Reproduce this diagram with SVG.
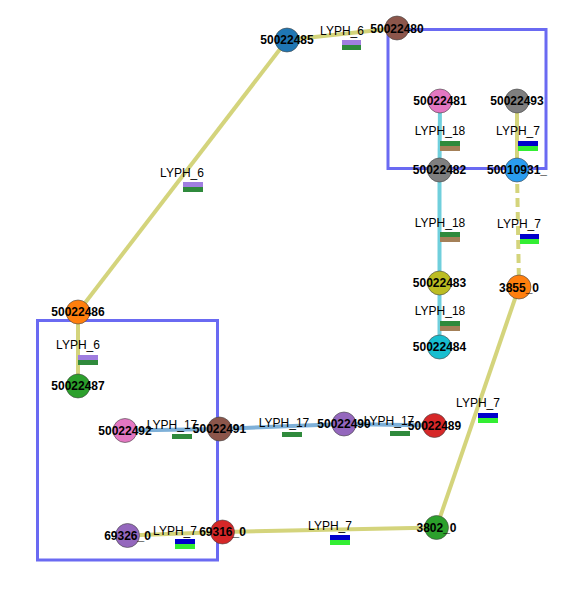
<svg xmlns="http://www.w3.org/2000/svg" width="561" height="599" viewBox="0 0 561 599">
<style>
.e{fill:none;stroke-width:4}
.y{stroke:#d4d47c}
.c{stroke:#70cfdc}
.s{stroke:#7eb0d8}
.d{stroke-dasharray:9 5}
.box{fill:none;stroke:#6a6af2;stroke-width:3}
.n{stroke:#444;stroke-width:1;stroke-opacity:0.6}
.nl{font-family:"Liberation Sans",Arial,sans-serif;font-size:12px;font-weight:bold;fill:#000;text-anchor:middle}
.ll{font-family:"Liberation Sans",Arial,sans-serif;font-size:12px;fill:#000;text-anchor:middle}
.pu{fill:#a07ee0}.dg{fill:#2f8a3c}.br{fill:#a48058}.bl{fill:#0000cc}.lg{fill:#33ee33}
</style>
<rect width="561" height="599" fill="#fff"/>
<g id="connectors">
<line class="e y" x1="287" y1="40" x2="397" y2="28"/>
<line class="e y" x1="78" y1="312" x2="287" y2="40"/>
<line class="e y" x1="78" y1="312" x2="78" y2="386"/>
<line class="e c" x1="440" y1="101" x2="439.5" y2="170"/>
<line class="e c" x1="439.5" y1="170" x2="439.5" y2="283"/>
<line class="e c" x1="439.5" y1="283" x2="439.5" y2="347"/>
<line class="e y" x1="517" y1="101" x2="517" y2="170"/>
<line class="e y d" x1="517" y1="170" x2="519" y2="287"/>
<line class="e y" x1="519" y1="287" x2="436.5" y2="527.5"/>
<line class="e y" x1="222.5" y1="532" x2="436.5" y2="527.5"/>
<line class="e y" x1="127.5" y1="535.5" x2="222.5" y2="532"/>
<line class="e s" x1="125" y1="430.5" x2="219.5" y2="429"/>
<line class="e s" x1="219.5" y1="429" x2="344" y2="424"/>
<line class="e s" x1="344" y1="424" x2="434.5" y2="425.5"/>
</g>
<g id="box-top"><rect class="box" x="388" y="29.5" width="158" height="139"/></g>
<g id="box-bottom"><rect class="box" x="37.5" y="320.5" width="180" height="239.5"/></g>
<g id="edge-labels">
<g><text class="ll" x="342" y="35">LYPH_6</text><rect class="pu" x="342" y="40" width="19" height="5"/><rect class="dg" x="342" y="45" width="19" height="5"/></g>
<g><text class="ll" x="182" y="177">LYPH_6</text><rect class="pu" x="183" y="182" width="20" height="5"/><rect class="dg" x="183" y="187" width="20" height="5"/></g>
<g><text class="ll" x="78" y="349">LYPH_6</text><rect class="pu" x="78" y="355" width="20" height="5"/><rect class="dg" x="78" y="360" width="20" height="5"/></g>
<g><text class="ll" x="440" y="135">LYPH_18</text><rect class="dg" x="440" y="141" width="20" height="5"/><rect class="br" x="440" y="146" width="20" height="5"/></g>
<g><text class="ll" x="440" y="227">LYPH_18</text><rect class="dg" x="440" y="232" width="20" height="5"/><rect class="br" x="440" y="237" width="20" height="5"/></g>
<g><text class="ll" x="440" y="315">LYPH_18</text><rect class="dg" x="440" y="321" width="20" height="5"/><rect class="br" x="440" y="326" width="20" height="5"/></g>
<g><text class="ll" x="518" y="135">LYPH_7</text><rect class="bl" x="518" y="141" width="20" height="5"/><rect class="lg" x="518" y="146" width="20" height="5"/></g>
<g><text class="ll" x="519" y="228">LYPH_7</text><rect class="bl" x="520" y="234" width="19" height="5"/><rect class="lg" x="520" y="239" width="19" height="5"/></g>
<g><text class="ll" x="478" y="407">LYPH_7</text><rect class="bl" x="478" y="413" width="20" height="5"/><rect class="lg" x="478" y="418" width="20" height="5"/></g>
<g><text class="ll" x="330" y="530">LYPH_7</text><rect class="bl" x="330" y="535" width="20" height="5"/><rect class="lg" x="330" y="540" width="20" height="5"/></g>
<g><text class="ll" x="175" y="535">LYPH_7</text><rect class="bl" x="175" y="539" width="20" height="5"/><rect class="lg" x="175" y="544" width="20" height="5"/></g>
<g><text class="ll" x="172" y="429">LYPH_17</text><rect class="dg" x="172" y="434" width="20" height="5"/></g>
<g><text class="ll" x="284" y="427">LYPH_17</text><rect class="dg" x="282" y="432" width="20" height="5"/></g>
<g><text class="ll" x="389" y="425">LYPH_17</text><rect class="dg" x="390" y="431" width="20" height="5"/></g>
</g>
<g id="n50022485"><circle class="n" cx="287" cy="40" r="12" fill="#1f77b4"/><text class="nl" x="287" y="44">50022485</text></g>
<g id="n50022480"><circle class="n" cx="397" cy="28" r="12" fill="#8c564b"/><text class="nl" x="397" y="33">50022480</text></g>
<g id="n50022481"><circle class="n" cx="440" cy="101" r="12" fill="#e377c2"/><text class="nl" x="440" y="105">50022481</text></g>
<g id="n50022493"><circle class="n" cx="517" cy="101" r="12" fill="#7f7f7f"/><text class="nl" x="517" y="105">50022493</text></g>
<g id="n50022482"><circle class="n" cx="439.5" cy="170" r="12" fill="#7f7f7f"/><text class="nl" x="439.5" y="174">50022482</text></g>
<g id="n50010931"><circle class="n" cx="517" cy="170" r="12" fill="#2a9df0"/><text class="nl" x="517" y="174">50010931_</text></g>
<g id="n50022483"><circle class="n" cx="439.5" cy="283" r="12" fill="#bcbd22"/><text class="nl" x="439.5" y="287">50022483</text></g>
<g id="n50022484"><circle class="n" cx="439.5" cy="347" r="12" fill="#17becf"/><text class="nl" x="439.5" y="351">50022484</text></g>
<g id="n3855_0"><circle class="n" cx="519" cy="287" r="12" fill="#ff7f0e"/><text class="nl" x="519" y="292">3855_0</text></g>
<g id="n50022486"><circle class="n" cx="78" cy="312" r="12" fill="#ff7f0e"/><text class="nl" x="78" y="316">50022486</text></g>
<g id="n50022487"><circle class="n" cx="78" cy="386" r="12" fill="#2ca02c"/><text class="nl" x="78" y="390">50022487</text></g>
<g id="n50022492"><circle class="n" cx="125" cy="430.5" r="12" fill="#e377c2"/><text class="nl" x="125" y="435">50022492</text></g>
<g id="n50022491"><circle class="n" cx="219.5" cy="429" r="12" fill="#8c564b"/><text class="nl" x="219.5" y="433">50022491</text></g>
<g id="n50022490"><circle class="n" cx="344" cy="424" r="12" fill="#9467bd"/><text class="nl" x="344" y="428">50022490</text></g>
<g id="n50022489"><circle class="n" cx="434.5" cy="425.5" r="12" fill="#d62728"/><text class="nl" x="434.5" y="430">50022489</text></g>
<g id="n69326_0"><circle class="n" cx="127.5" cy="535.5" r="12" fill="#9467bd"/><text class="nl" x="127.5" y="540">69326_0</text></g>
<g id="n69316_0"><circle class="n" cx="222.5" cy="532" r="12" fill="#d62728"/><text class="nl" x="222.5" y="536">69316_0</text></g>
<g id="n3802_0"><circle class="n" cx="436.5" cy="527.5" r="12" fill="#2ca02c"/><text class="nl" x="436.5" y="532">3802_0</text></g>
</svg>
